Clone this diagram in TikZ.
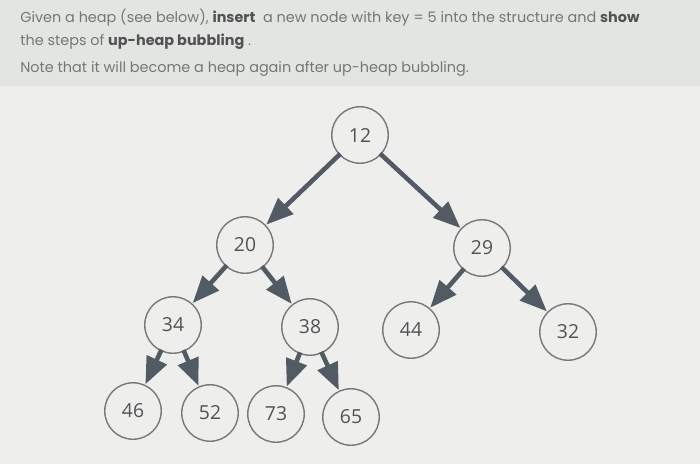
\documentclass[tikz,border=0pt]{standalone}
\usepackage{fontspec}
\setmainfont{Poppins}
\newfontfamily\numfont{Open Sans}
\usepackage{tikz}
\usetikzlibrary{arrows}
\definecolor{pagegrey}{RGB}{238,239,237}
\definecolor{bandgrey}{RGB}{226,229,226}
\definecolor{textgrey}{RGB}{118,118,118}
\definecolor{boldgrey}{RGB}{82,82,82}
\definecolor{ringgrey}{RGB}{120,120,120}
\definecolor{arrowgrey}{RGB}{82,90,100}

\begin{document}
\begin{tikzpicture}[x=0.02cm,y=-0.02cm,
	key/.style={circle,draw=ringgrey,line width=0.8pt,minimum size=1.13cm,inner sep=0pt,font=\numfont\fontsize{11}{13}\selectfont,text=boldgrey},
	link/.style={-triangle 45,draw=arrowgrey,line width=2.6pt,shorten <=-1pt,shorten >=0.5pt},
	line/.style={anchor=base west,inner sep=0pt,text=textgrey,font=\fontsize{8.2}{10}\selectfont}]
	\fill[pagegrey] (0,0) rectangle (700,464);
	\fill[bandgrey] (0,0) rectangle (700,86);
	\node[line] (L1) at (20,22) {Given a heap (see below), \textcolor{boldgrey}{\textbf{insert}}\ \ a new node with key = 5 into the structure and \textcolor{boldgrey}{\textbf{show}}};
	\node[line] (L2) at (20,45) {the steps of \textcolor{boldgrey}{\textbf{up-heap bubbling}} .};
	\node[line] (L3) at (20,72) {Note that it will become a heap again after up-heap bubbling.};
	\node[key] (n12) at (360,135) {12};
	\node[key] (n20) at (245,245) {20};
	\node[key] (n29) at (482,248) {29};
	\node[key] (n34) at (173,325) {34};
	\node[key] (n38) at (310,327) {38};
	\node[key] (n44) at (411,330) {44};
	\node[key] (n32) at (568,332) {32};
	\node[key] (n46) at (133,411) {46};
	\node[key] (n52) at (210,413) {52};
	\node[key] (n73) at (276,414) {73};
	\node[key] (n65) at (351,417) {65};
	\draw[link] (n12)--(n20);
	\draw[link] (n12)--(n29);
	\draw[link] (n20)--(n34);
	\draw[link] (n20)--(n38);
	\draw[link] (n29)--(n44);
	\draw[link] (n29)--(n32);
	\draw[link] (n34)--(n46);
	\draw[link] (n34)--(n52);
	\draw[link] (n38)--(n73);
	\draw[link] (n38)--(n65);
\end{tikzpicture}
\end{document}
